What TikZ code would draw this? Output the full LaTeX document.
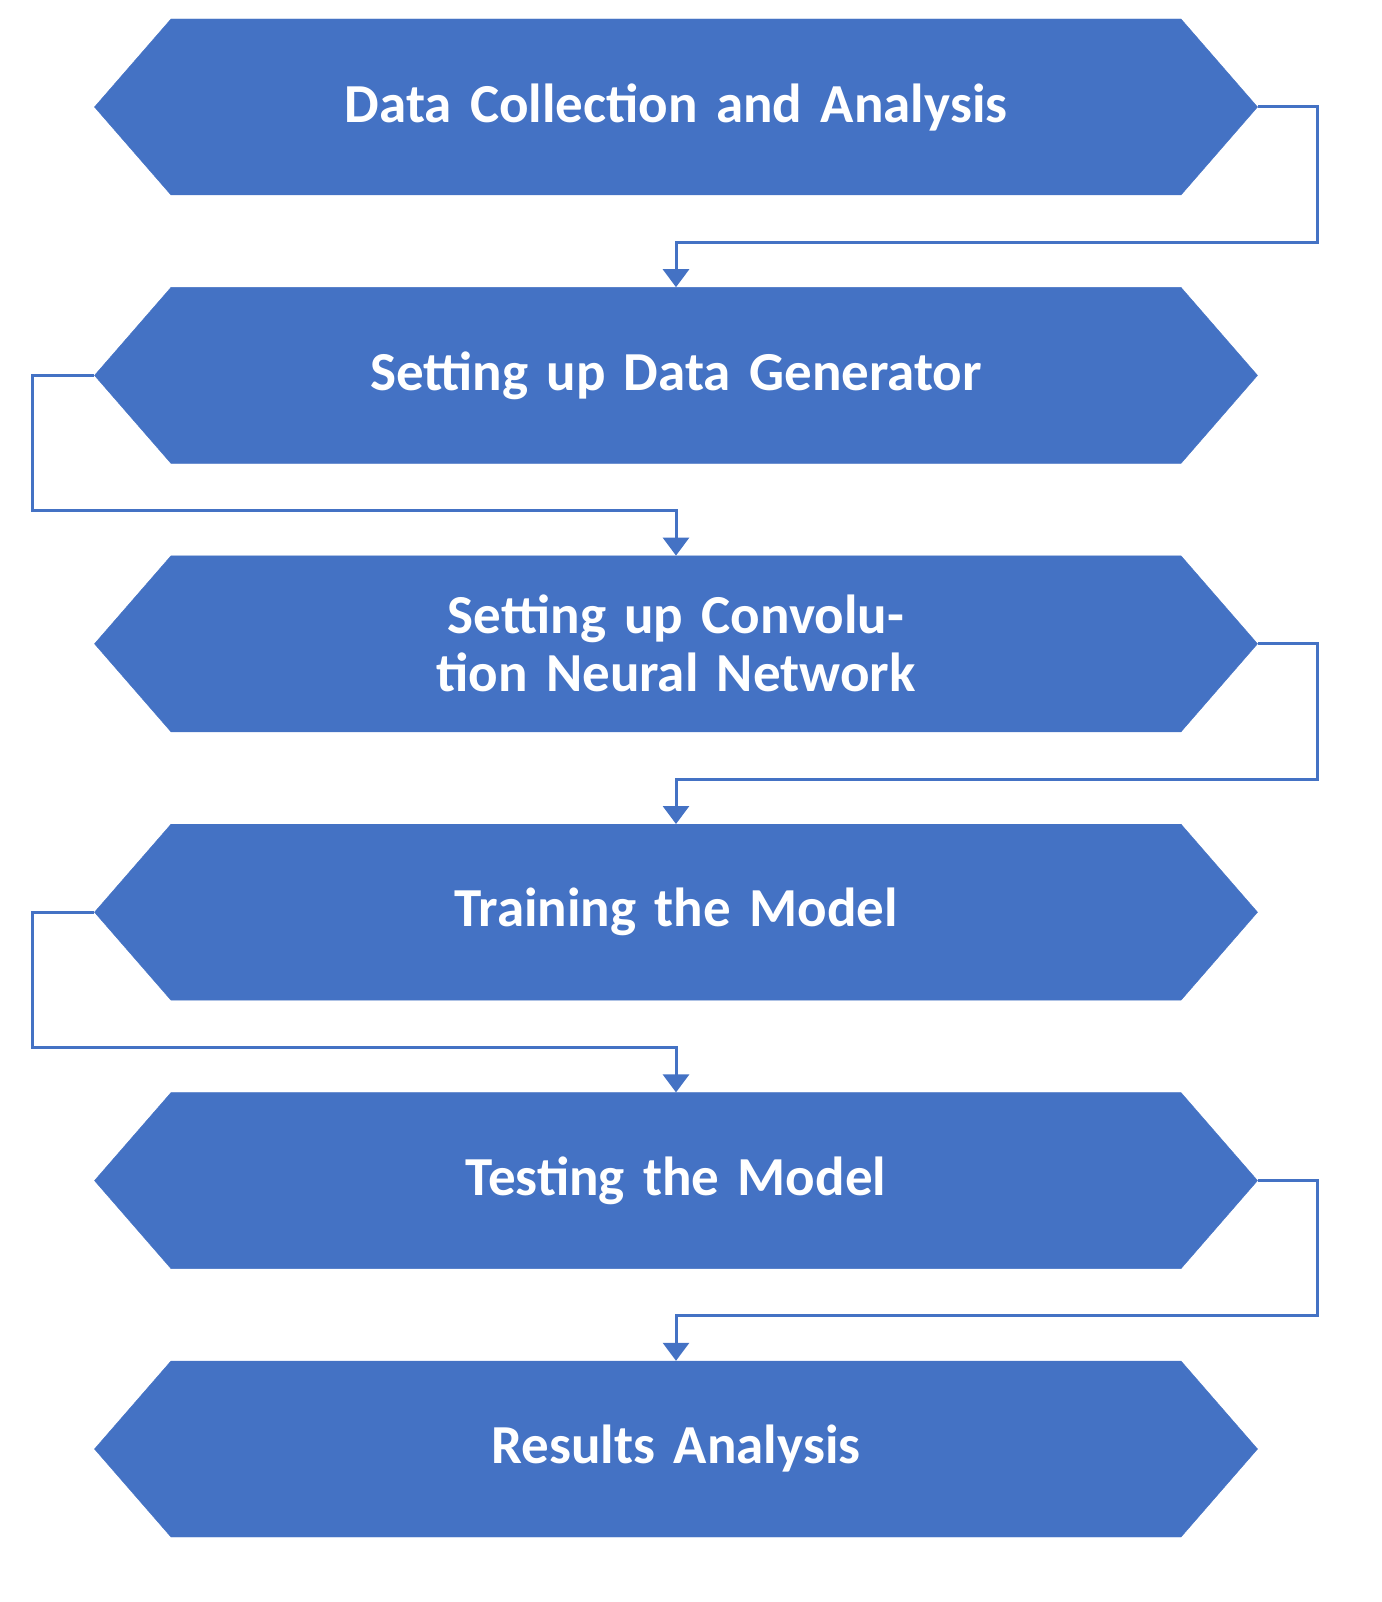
\documentclass[tikz,border=0pt]{standalone}
\usepackage{fontspec}
\setmainfont{Carlito}
\usetikzlibrary{arrows.meta,positioning,shapes.symbols}
\definecolor{stepblue}{HTML}{4472C4}
\begin{document}
\begin{tikzpicture}[x=1pt,y=1pt,node distance=92pt,
    stage/.style={signal, signal to=east and west, signal pointer angle=98,
        fill=stepblue, draw=stepblue, minimum width=1163pt, minimum height=176pt,
        inner sep=0pt, text=white, text width=790pt, align=center,
        font=\fontsize{55}{58}\selectfont\bfseries},
    link/.style={draw=stepblue, line width=3pt,
        -{Triangle[width=26pt,length=18pt]}}]
    \useasboundingbox (0,0) rectangle (1381,-1602);

    \node[stage] (collect) at (676,-107) {Data Collection and Analysis};
    \node[stage] (gen)     [below=of collect] {Setting up Data Generator};
    \node[stage] (cnn)     [below=of gen]     {Setting up Convolution Neural Network};
    \node[stage] (train)   [below=of cnn]     {Training the Model};
    \node[stage] (test)    [below=of train]   {Testing the Model};
    \node[stage] (result)  [below=of test]    {Results Analysis};

    \draw[link] (collect.east) -- ++(60,0) |- ([yshift=45pt]gen.north) -- (gen.north);
    \draw[link] (gen.west) -- ++(-62,0) |- ([yshift=45pt]cnn.north) -- (cnn.north);
    \draw[link] (cnn.east) -- ++(60,0) |- ([yshift=45pt]train.north) -- (train.north);
    \draw[link] (train.west) -- ++(-62,0) |- ([yshift=45pt]test.north) -- (test.north);
    \draw[link] (test.east) -- ++(60,0) |- ([yshift=45pt]result.north) -- (result.north);
\end{tikzpicture}
\end{document}
